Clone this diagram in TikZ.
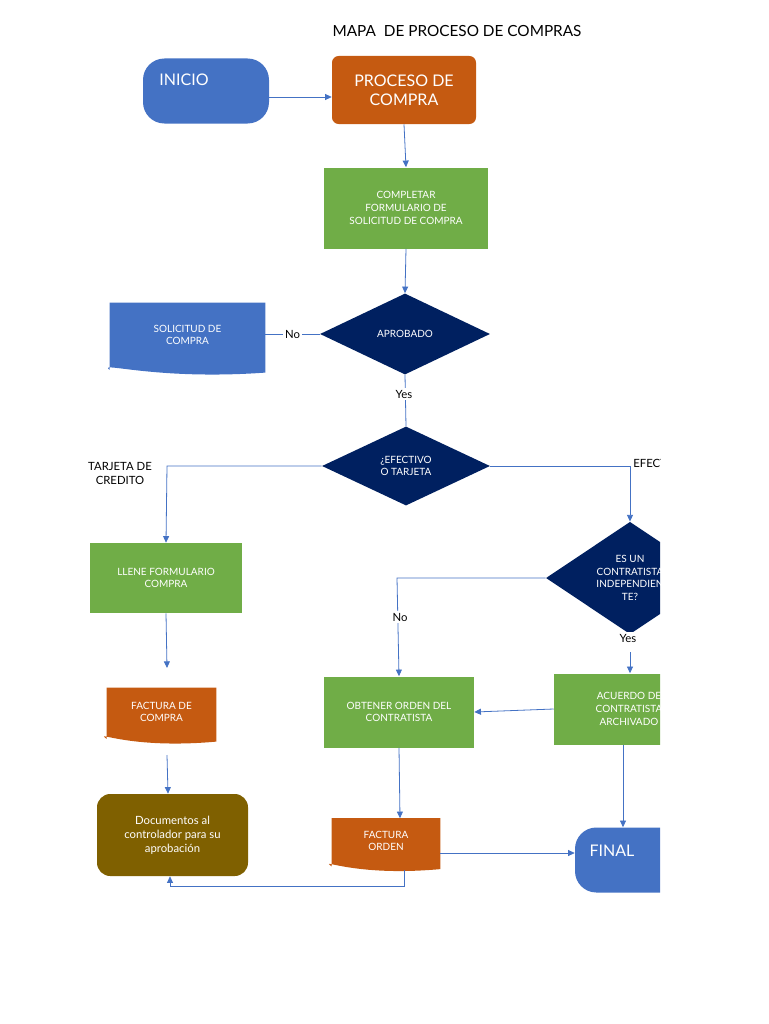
\documentclass[tikz,border=0pt]{standalone}
\usepackage{fontspec}
\setmainfont{Lato}
\usetikzlibrary{shapes.geometric,arrows.meta,backgrounds}
\definecolor{cblue}{HTML}{4472C4}
\definecolor{corange}{HTML}{C55A11}
\definecolor{cgreen}{HTML}{70AD47}
\definecolor{cnavy}{HTML}{002060}
\definecolor{colive}{HTML}{7F6000}
\definecolor{cline}{HTML}{4472C4}
\begin{document}
\begin{tikzpicture}[x=0.75pt,y=-0.75pt,
  box/.style={rectangle,fill=cgreen,text=white,align=center,font=\fontsize{7.5}{9.5}\selectfont,inner sep=0pt},
  dia/.style={diamond,fill=cnavy,text=white,align=center,font=\fontsize{7.5}{9.5}\selectfont,inner sep=0pt},
  doc/.style={rectangle,text=white,align=center,font=\fontsize{7.5}{9.5}\selectfont,inner sep=0pt},
  term/.style={rectangle,rounded corners=16pt,fill=cblue,text=white,font=\fontsize{12}{14}\selectfont,inner sep=0pt},
  lbl/.style={font=\fontsize{8.5}{10.5}\selectfont,fill=white,inner sep=1.5pt,align=center},
  con/.style={draw=cline,line width=0.6pt},
  arr/.style={con,-{Triangle[width=4.5pt,length=5pt]}}]
\useasboundingbox (0,0) rectangle (768,1024);
\node[font=\fontsize{11.5}{13}\selectfont] (title) at (457,31) {MAPA \ DE PROCESO DE COMPRAS};
\begin{scope}
\clip (0,0) rectangle (660,1024);
\newcommand\wavedoc[2]{\begin{pgfonlayer}{background}\fill[#2] (#1.north west) -- (#1.north east) -- ([yshift=-4pt]#1.south east) .. controls ([xshift=-25pt,yshift=-10pt]#1.south) and ([xshift=-10pt,yshift=5pt]#1.south west) .. ([yshift=-2pt]#1.south west) -- cycle;\end{pgfonlayer}}
\node[term,minimum width={126*0.75pt},minimum height={65*0.75pt},text width={90*0.75pt},text height=10pt,anchor=center] (ini) at (206,91) {};
\node[text=white,font=\fontsize{12}{14}\selectfont] (initext) at (184,80) {INICIO};
\node[rectangle,rounded corners=5pt,fill=corange,text=white,align=center,font=\fontsize{12}{14}\selectfont,minimum width={144*0.75pt},minimum height={68*0.75pt},inner sep=0pt] (proc) at (404,90) {PROCESO DE\\COMPRA};
\node[box,minimum width={164*0.75pt},minimum height={81*0.75pt}] (comp) at (406,208) {COMPLETAR\\FORMULARIO DE\\SOLICITUD DE COMPRA};
\node[dia,minimum width={170*0.75pt},minimum height={81*0.75pt}] (apr) at (405,334) {APROBADO};
\node[doc,minimum width={155*0.75pt},minimum height={64*0.75pt}] (sol) at (187.5,335) {SOLICITUD DE\\COMPRA};
\wavedoc{sol}{cblue}
\node[dia,minimum width={168*0.75pt},minimum height={79*0.75pt}] (efe) at (406,466) {¿EFECTIVO\\O TARJETA};
\node[box,minimum width={152*0.75pt},minimum height={70*0.75pt}] (llene) at (166,578) {LLENE FORMULARIO\\COMPRA};
\node[dia,minimum width={168*0.75pt},minimum height={83*0.75pt}] (es) at (630,578) {ES UN\\CONTRATISTA\\INDEPENDIEN\\TE?};
\node[box,minimum width={150*0.75pt},minimum height={71*0.75pt}] (obt) at (399,712) {OBTENER ORDEN DEL\\CONTRATISTA};
\node[box,minimum width={150*0.75pt},minimum height={71*0.75pt}] (acu) at (629,709) {ACUERDO DE\\CONTRATISTA\\ARCHIVADO};
\node[doc,minimum width={109*0.75pt},minimum height={48*0.75pt}] (fac) at (161.5,712) {FACTURA DE\\COMPRA};
\wavedoc{fac}{corange}
\node[rectangle,rounded corners=10pt,fill=colive,text=white,align=center,font=\fontsize{8.5}{10.5}\selectfont,minimum width={151*0.75pt},minimum height={82*0.75pt},inner sep=0pt] (docs) at (172.5,835) {Documentos al\\controlador para su\\aprobación};
\node[doc,minimum width={108*0.75pt},minimum height={45*0.75pt}] (fo) at (386,841) {FACTURA\\ORDEN};
\wavedoc{fo}{corange}
\node[term,minimum width={130*0.75pt},minimum height={65*0.75pt}] (fin) at (640,860) {};
\node[text=white,font=\fontsize{12}{14}\selectfont] (fintext) at (612,851) {FINAL};
% connectors
\draw[arr] (ini.east |- 0,97) -- (proc.west |- 0,97);
\draw[arr] (proc.south) -- (comp.north);
\draw[arr] (comp.south) -- (apr.north);
\draw[con] (apr.west) -- node[lbl] (no1) {No} (sol.east |- apr.west);
\draw[con] (apr.south) -- (efe.north);
\node[lbl] (yes1) at (404,394) {Yes};
\coordinate (tl) at (167,466);
\coordinate (tr) at (630,466);
\draw[arr] (efe.west) -- (tl) -- (llene.north);
\draw[arr] (efe.east) -- (tr) -- (es.north);
\node[font=\fontsize{8.5}{10.5}\selectfont,align=center] (tarj) at (120,473) {TARJETA DE\\CREDITO};
\node[font=\fontsize{8.5}{10.5}\selectfont] (efel) at (660,463) {EFECTIVO};
\coordinate (nl) at (397,578);
\draw[arr] (es.west) -- (nl) -- (obt.north);
\node[lbl] (no2) at (400,617) {No};
\node[lbl] (yes2) at (628,638) {Yes};
\draw[arr] (630,652) -- (acu.north -| 630,0);
\draw[arr] (acu.west) -- (obt.east);
\draw[arr] (llene.south) -- (167,668);
\draw[arr] (167,755) -- (docs.north -| 168,0);
\draw[arr] (obt.south) -- (fo.north -| 400,0);
\draw[arr] (fo.east |- 0,853) -- (fin.west |- 0,853);
\draw[arr] (acu.south -| 623,0) -- (fin.north -| 623,0);
\coordinate (b1) at (404,886);
\coordinate (b2) at (170,886);
\draw[arr] (404,870) -- (b1) -- (b2) -- (docs.south -| 170,0);
\end{scope}
\end{tikzpicture}
\end{document}
